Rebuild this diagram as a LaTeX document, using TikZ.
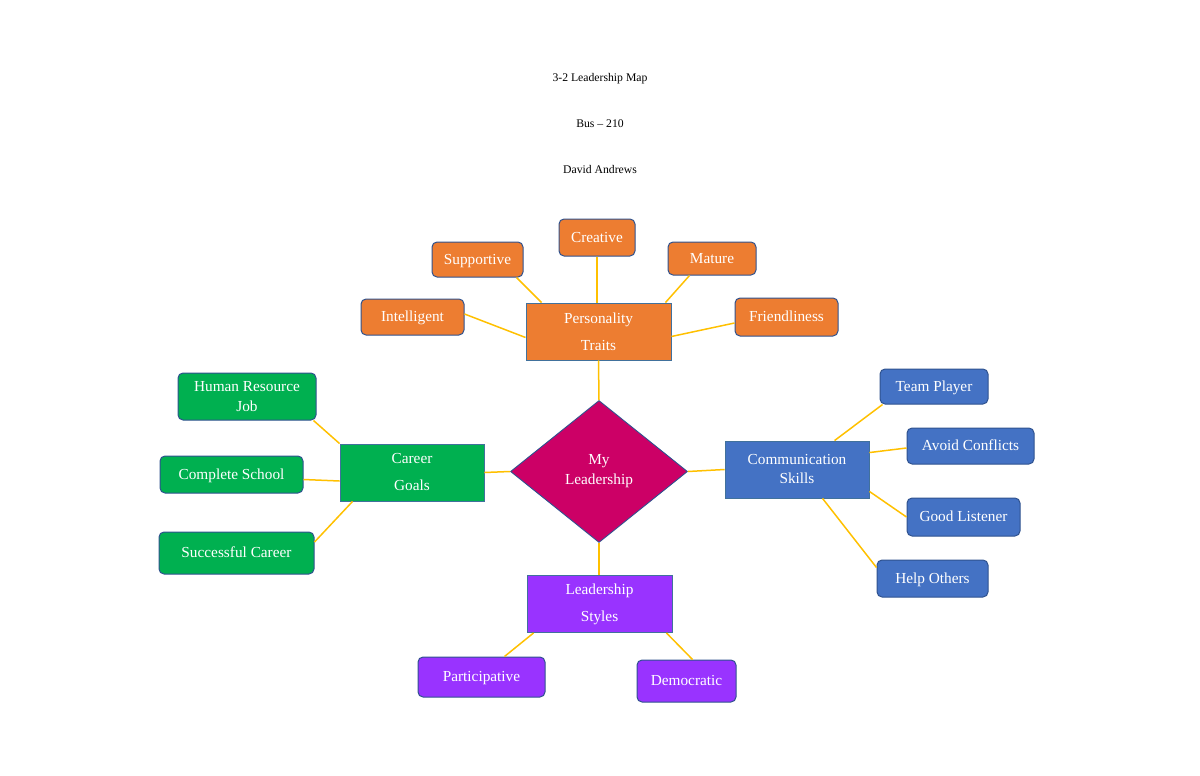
\documentclass[tikz,border=0pt]{standalone}
\usepackage{fontspec}
\setmainfont{Liberation Serif}
\usetikzlibrary{shapes.geometric}
\definecolor{orng}{HTML}{ED7D31}
\definecolor{grn}{HTML}{00B050}
\definecolor{blu}{HTML}{4472C4}
\definecolor{purp}{HTML}{9933FF}
\definecolor{mag}{HTML}{CC0066}
\definecolor{edgeb}{HTML}{2F528F}
\definecolor{hubb}{HTML}{41719C}
\definecolor{conn}{HTML}{FFC000}
\tikzset{
  boxtext/.style={text=white, font=\fontsize{15.3}{18.4}\selectfont, align=center, inner sep=0pt},
  leafbox/.style={boxtext, rectangle, rounded corners=5pt, draw=edgeb, line width=1pt},
  leaf/.style={leafbox, text height=9.6pt, text depth=0pt},
  hub/.style={boxtext, rectangle, draw=hubb, line width=0.9pt},
  link/.style={draw=conn, line width=1.5pt},
  titletext/.style={font=\fontsize{11.7}{14}\selectfont, inner sep=0pt}
}
\begin{document}
\begin{tikzpicture}[x=1pt,y=-1pt]
\useasboundingbox (0,0) rectangle (1200,776);
% titles
\node[titletext] (t1) at (600,79) {3-2 Leadership Map};
\node[titletext] (t2) at (600,124) {Bus -- 210};
\node[titletext] (t3) at (600,169) {David Andrews};
% personality traits cluster
\node[hub, fill=orng, minimum width=145pt, minimum height=57pt] (pt) at (598.5,331.5) {Personality\\[8.6pt]Traits};
\node[leaf, fill=orng, minimum width=76pt, minimum height=37pt] (cre) at (597,237.5) {Creative};
\node[leaf, fill=orng, minimum width=91pt, minimum height=35pt] (sup) at (477.5,259.5) {Supportive};
\node[leaf, fill=orng, minimum width=88pt, minimum height=33pt] (mat) at (712,258.5) {Mature};
\node[leaf, fill=orng, minimum width=103pt, minimum height=36pt] (int) at (412.5,317) {Intelligent};
\node[leaf, fill=orng, minimum width=103pt, minimum height=38pt] (fri) at (786.5,317) {Friendliness};
% centre
\node[diamond, draw=edgeb, line width=0.9pt, fill=mag, text=white, font=\fontsize{15.3}{18.4}\selectfont, align=center, inner sep=0pt, minimum width=177pt, minimum height=142pt] (dia) at (599,471.5) {My\\[1.6pt]Leadership};
% career goals cluster
\node[hub, fill=grn, minimum width=144pt, minimum height=57pt] (car) at (412,472.5) {Career\\[8.6pt]Goals};
\node[leafbox, fill=grn, minimum width=138pt, minimum height=47pt] (hr) at (247,396.5) {Human Resource\\[1.6pt]Job};
\node[leaf, fill=grn, minimum width=143pt, minimum height=37pt] (cs) at (231.5,474.5) {Complete School};
\node[leaf, fill=grn, minimum width=155pt, minimum height=42pt] (sc) at (236.5,553) {Successful Career};
% communication cluster
\node[hub, fill=blu, minimum width=144pt, minimum height=57pt] (com) at (797,469.5) {Communication\\[0.6pt]Skills};
\node[leaf, fill=blu, minimum width=108pt, minimum height=35pt] (tp) at (934,386.5) {Team Player};
\node[leaf, fill=blu, minimum width=127pt, minimum height=36pt] (ac) at (970.5,446) {Avoid Conflicts};
\node[leaf, fill=blu, minimum width=113pt, minimum height=38pt] (gl) at (963.5,517) {Good Listener};
\node[leaf, fill=blu, minimum width=111pt, minimum height=37pt] (ho) at (932.5,578.5) {Help Others};
% leadership styles cluster
\node[hub, fill=purp, minimum width=145pt, minimum height=57pt] (ls) at (599.5,604) {Leadership\\[8.6pt]Styles};
\node[leaf, fill=purp, minimum width=127pt, minimum height=40pt] (par) at (481.5,677) {Participative};
\node[leaf, fill=purp, minimum width=99pt, minimum height=42pt] (dem) at (686.5,681) {Democratic};
% connectors
\draw[link] (cre.south) -- (cre.south |- pt.north);
\draw[link] ([xshift=-7pt]sup.south east) -- ([xshift=16pt]pt.north west);
\draw[link] ([xshift=22pt]mat.south west) -- ([xshift=-6pt]pt.north east);
\draw[link] ([yshift=3pt]int.east) -- ([yshift=-6pt]pt.west);
\draw[link] ([yshift=-6pt]fri.west) -- ([yshift=-5pt]pt.east);
\draw[link] (pt.south) -- (dia.north);
\draw[link] ([xshift=-3pt]hr.south east) -- (car.north west);
\draw[link] ([yshift=-5pt]cs.east) -- ([yshift=-8.5pt]car.west);
\draw[link] ([yshift=11pt]sc.east) -- ([xshift=13pt]car.south west);
\draw[link] (car.east) -- (dia.west);
\draw[link] (dia.east) -- (com.west);
\draw[link] ([xshift=3pt]tp.south west) -- ([xshift=110pt]com.north west);
\draw[link] ([yshift=-2pt]ac.west) -- ([yshift=-12pt]com.north east);
\draw[link] (gl.west) -- ([yshift=7pt]com.south east);
\draw[link] ([yshift=-8pt]ho.north west) -- ([xshift=98pt]com.south west);
\draw[link] (dia.south) -- (dia.south |- ls.north);
\draw[link] ([xshift=87pt]par.north west) -- ([xshift=7pt]ls.south west);
\draw[link] ([xshift=56pt]dem.north west) -- ([xshift=-6pt]ls.south east);
\end{tikzpicture}
\end{document}
